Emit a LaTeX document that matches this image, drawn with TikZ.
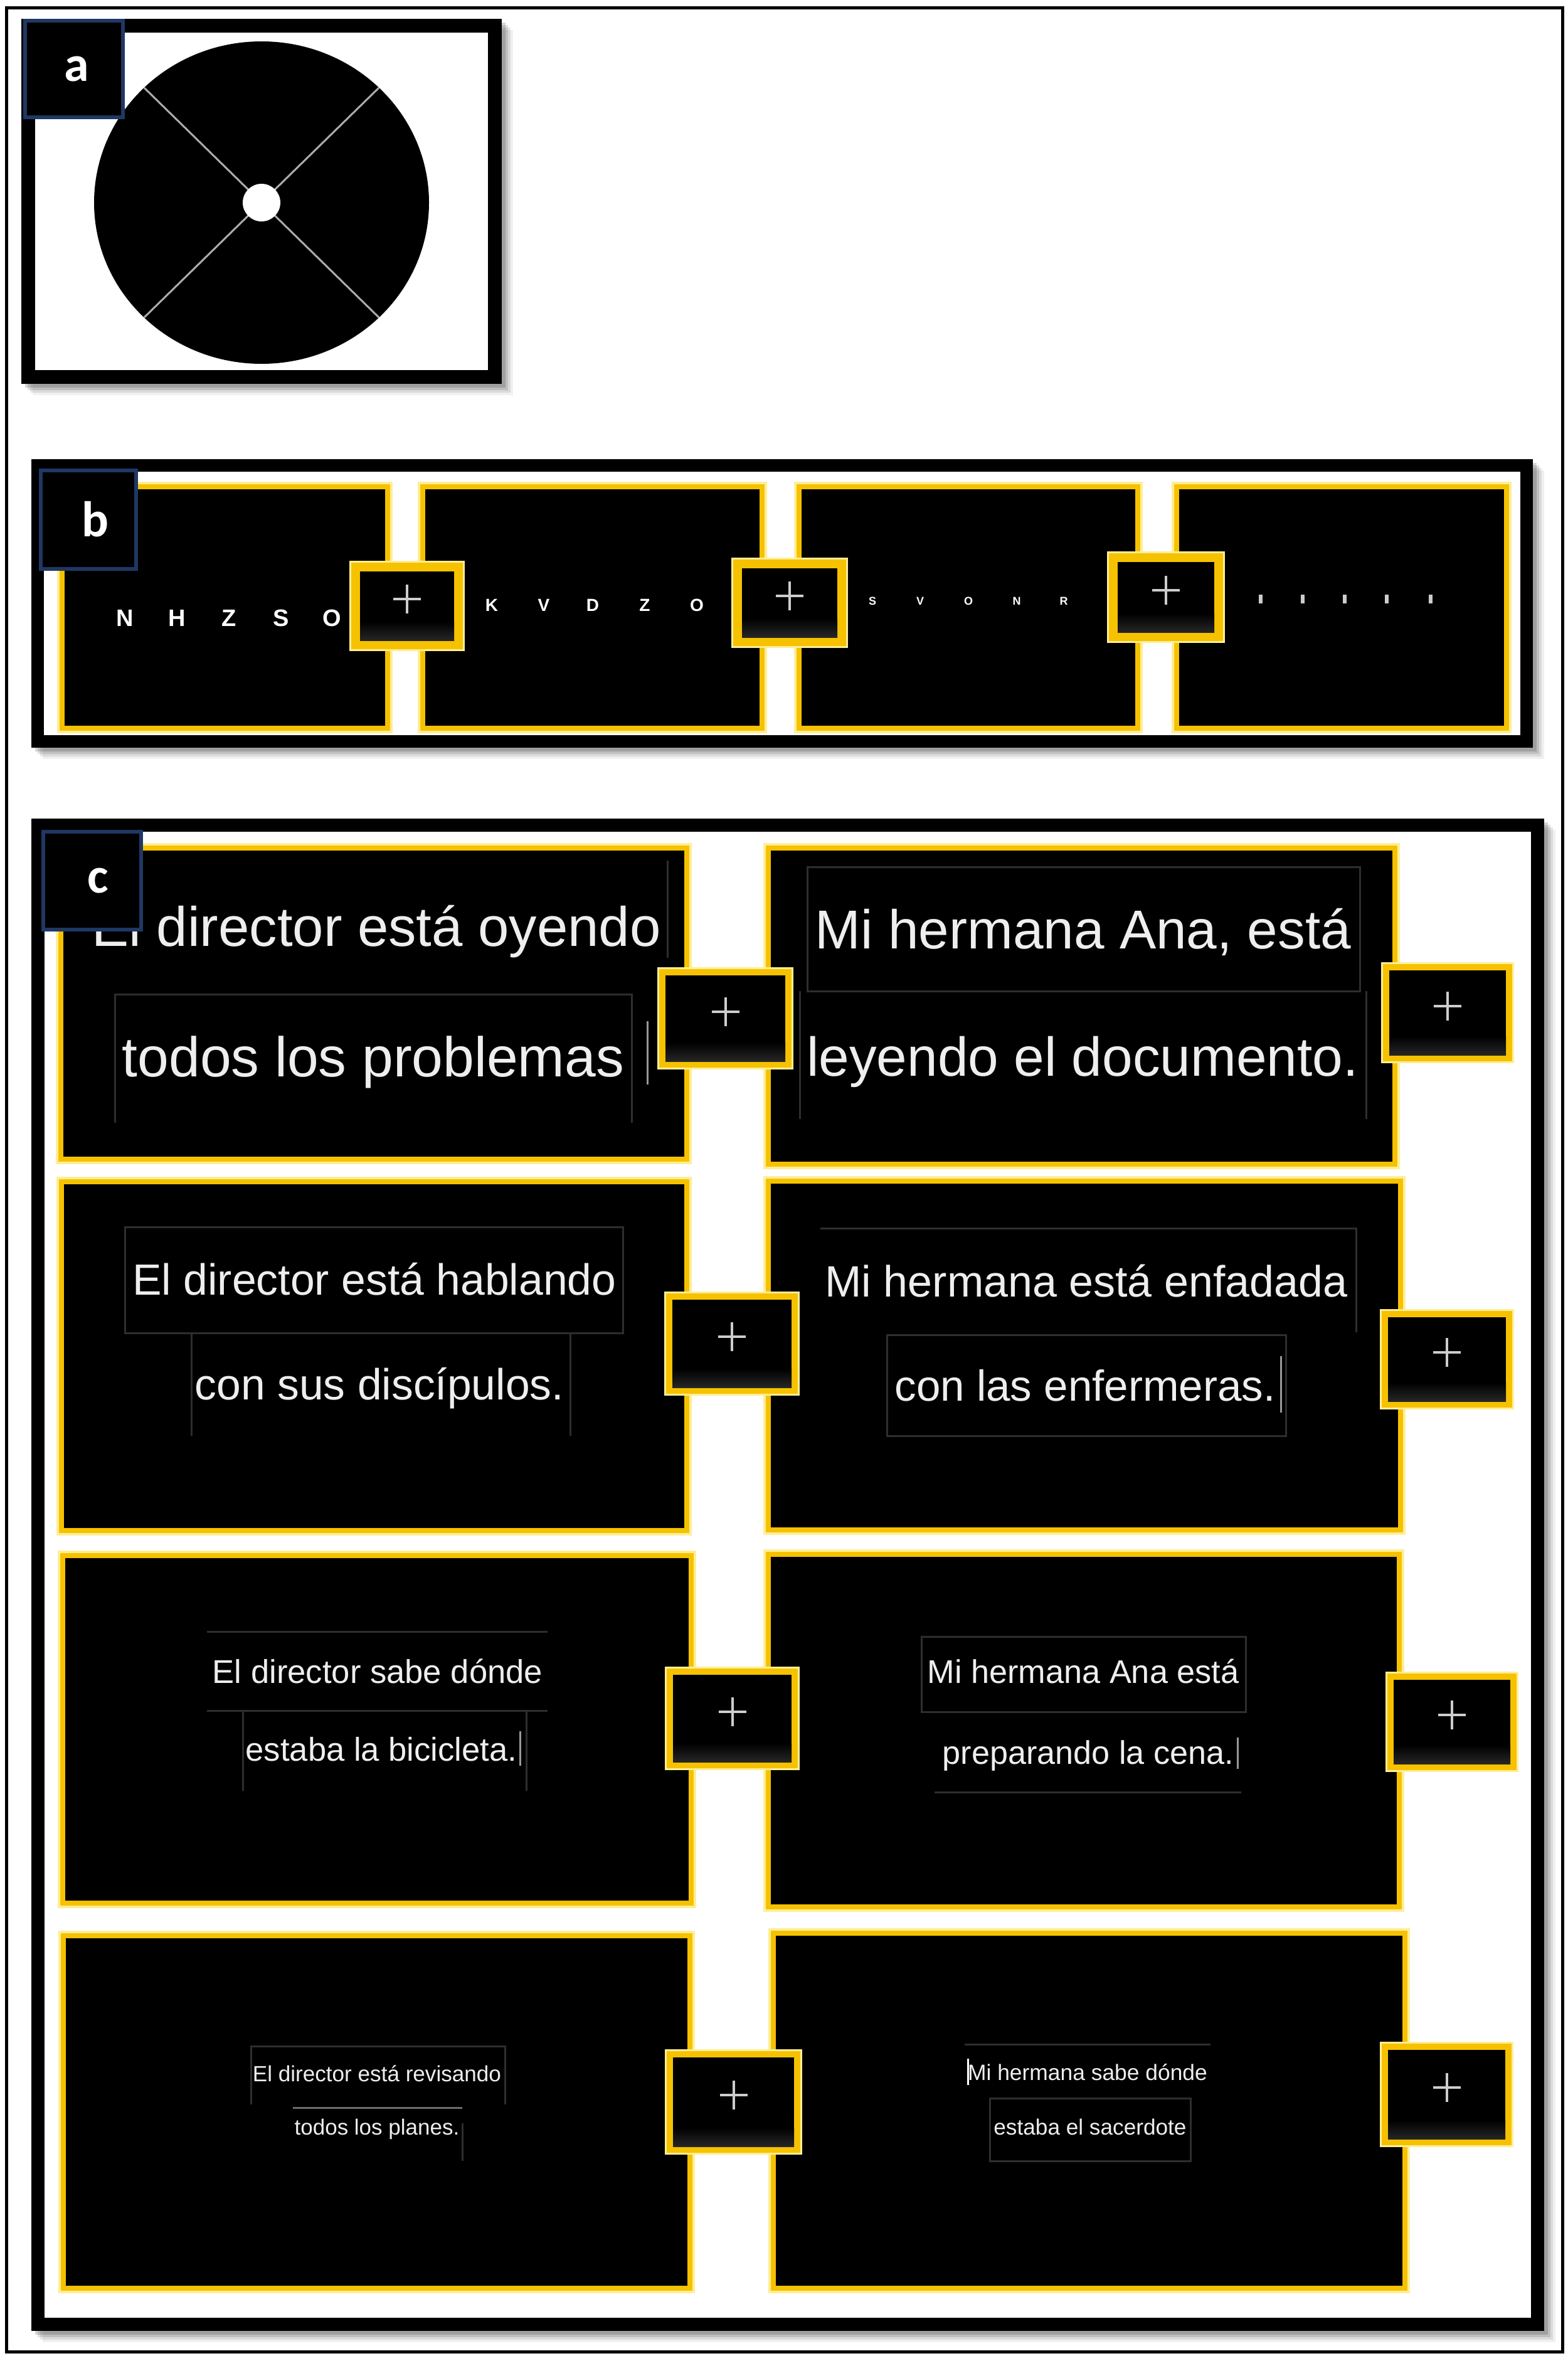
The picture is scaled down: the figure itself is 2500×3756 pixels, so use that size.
\documentclass[tikz,border=0pt]{standalone}
\usepackage{fontspec}
\setmainfont{Liberation Sans}
\newfontfamily\labfont{Carlito}
\definecolor{gold}{RGB}{246,194,0}
\definecolor{palegold}{RGB}{255,238,150}
\definecolor{navy}{RGB}{31,56,100}
\definecolor{boxgray}{RGB}{46,46,46}
\definecolor{plusgray}{RGB}{205,205,205}
\definecolor{txt}{RGB}{238,238,238}
\newcommand\ShadowBox[4]{%
  \foreach \sh/\op in {18/0.06,14/0.09,10/0.12,6/0.16}{%
    \fill[black,opacity=\op] (#1+\sh,#2+\sh) rectangle (#3+\sh,#4+\sh);}}
\newcommand\YPanel[4]{%
  \fill[black] (#1,#2) rectangle (#3,#4);
  \draw[palegold, line width=6pt] (#1-1,#2-1) rectangle (#3+1,#4+1);
  \draw[gold, line width=8pt] (#1+4,#2+4) rectangle (#3-4,#4-4);}
\newcommand\FixBox[5]{%
  \fill[palegold] (#1-3,#2-3) rectangle (#3+3,#4+3);
  \fill[gold] (#1,#2) rectangle (#3,#4);
  \fill[black] (#1+#5,#2+#5) rectangle (#3-#5,#4-#5);
  \shade[top color=black, bottom color=black!85!white] (#1+#5,#4-#5-30) rectangle (#3-#5,#4-#5);
  \pgfmathsetmacro\fcx{(#1+#3)/2}\pgfmathsetmacro\fcy{(#2+#4)/2-11}
  \draw[plusline] (\fcx-22,\fcy) -- (\fcx+22,\fcy);
  \draw[plusline] (\fcx,\fcy-23) -- (\fcx,\fcy+23);}
\begin{document}
\begin{tikzpicture}[x=1pt,y=-1pt,
  ctext/.style={text=txt, inner sep=0pt, anchor=base},
  labtext/.style={text=white, inner sep=0pt, font=\labfont\bfseries\fontsize{80}{80}\selectfont},
  labbox/.style={draw=navy, line width=6pt, fill=black},
  plusline/.style={plusgray, line width=4pt},
  tbox/.style={boxgray, line width=3pt},
  cursorline/.style={gray!80!white, line width=3pt},
  sloan/.style={text=white, inner sep=0pt, font=\bfseries}]
\useasboundingbox (0,0) rectangle (2500,3756);
\fill[white] (0,0) rectangle (2500,3756);
\draw[black, line width=5pt] (10.5,12.5) rectangle (2491.5,3749.5);

% ---------------- panel a
\ShadowBox{34}{30}{800}{612}
\draw[black, line width=22pt, fill=white] (45,41) rectangle (789,601);
\fill[black] (417,323) ellipse [x radius=267pt, y radius=257pt];
\draw[gray!65!white, line width=3pt] (417,323) -- ++(187,183);
\draw[gray!65!white, line width=3pt] (417,323) -- ++(-187,183);
\draw[gray!65!white, line width=3pt] (417,323) -- ++(187,-183);
\draw[gray!65!white, line width=3pt] (417,323) -- ++(-187,-183);
\fill[white] (417,323) circle [radius=30pt];
\draw[labbox] (40,33) rectangle (196,187);
\node[labtext] (la) at (122,110) {a};

% ---------------- panel b
\ShadowBox{50}{732}{2444}{1192}
\draw[black, line width=20pt, fill=white] (60,742) rectangle (2434,1182);
\YPanel{95}{772}{622}{1165}
\YPanel{670}{772}{1219}{1165}
\YPanel{1270}{772}{1818}{1165}
\YPanel{1872}{772}{2406}{1165}
\foreach \L/\X [count=\i] in {N/199,H/282,Z/365,S/448,O/529}
  \node[sloan, font=\bfseries\fontsize{38}{38}\selectfont] (pa\i) at (\X,985) {\L};
\foreach \L/\X [count=\i] in {K/784,V/867,D/945,Z/1028,O/1111}
  \node[sloan, font=\bfseries\fontsize{28}{28}\selectfont] (pb\i) at (\X,965) {\L};
\foreach \L/\X [count=\i] in {S/1391,V/1467,O/1544,N/1621,R/1696}
  \node[sloan, font=\bfseries\fontsize{18}{18}\selectfont] (pc\i) at (\X,958) {\L};
\foreach \X in {2010,2077,2144,2211,2281}
  \fill[white!80!black] (\X-3,948) rectangle (\X+3,962);
\FixBox{560}{897}{738}{1035}{14}
\FixBox{1169}{892}{1349}{1030}{14}
\FixBox{1768}{882}{1950}{1022}{14}
\draw[labbox] (65,750) rectangle (217,907);
\node[labtext] (lb) at (152,828) {b};

% ---------------- panel c
\ShadowBox{50}{1305}{2462}{3716}
\draw[black, line width=21pt, fill=white] (60.5,1315.5) rectangle (2451.5,3705.5);
\YPanel{93}{1348}{1099}{1852}
\YPanel{1221}{1348}{2228}{1860}
\YPanel{94}{1880}{1099}{2444}
\YPanel{1221}{1879}{2237}{2443}
\YPanel{96}{2476}{1106}{3038}
\YPanel{1221}{2474}{2235}{3044}
\YPanel{97}{3082}{1104}{3652}
\YPanel{1229}{3078}{2244}{3652}

% row 1 left
\draw[tbox] (1064,1372) -- (1064,1527);
\draw[tbox] (183,1790) -- (183,1585) -- (1007,1585) -- (1007,1790);
\draw[cursorline] (1032,1628) -- (1032,1729);
\node[ctext, font=\fontsize{88.7}{90}\selectfont] (t1a) at (600,1508) {El director está oyendo};
\node[ctext, font=\fontsize{89.4}{90}\selectfont] (t1b) at (595,1716) {todos los problemas};
% row 1 right
\draw[tbox] (1287,1382) rectangle (2168,1580);
\draw[tbox] (1275,1580) -- (1275,1784);
\draw[tbox] (2178,1580) -- (2178,1784);
\node[ctext, font=\fontsize{87.3}{90}\selectfont] (t2a) at (1727,1512) {Mi hermana Ana, está};
\node[ctext, font=\fontsize{87.4}{90}\selectfont] (t2b) at (1726,1715) {leyendo el documento.};
% row 2 left
\draw[tbox] (199,1956) rectangle (993,2125);
\draw[tbox] (305,2125) -- (305,2289);
\draw[tbox] (909,2125) -- (909,2289);
\node[ctext, font=\fontsize{69.7}{70}\selectfont] (t3a) at (597,2064) {El director está hablando};
\node[ctext, font=\fontsize{69.6}{70}\selectfont] (t3b) at (605,2231) {con sus discípulos.};
% row 2 right
\draw[tbox] (1308,1958) -- (2162,1958) -- (2162,2124);
\draw[tbox] (1414,2128) rectangle (2050,2289);
\draw[cursorline] (2042,2162) -- (2042,2252);
\node[ctext, font=\fontsize{70}{70}\selectfont] (t4a) at (1732,2067) {Mi hermana está enfadada};
\node[ctext, font=\fontsize{69.1}{70}\selectfont] (t4b) at (1730,2233) {con las enfermeras.};
% row 3 left
\draw[tbox] (330,2601) -- (873,2601);
\draw[tbox] (330,2727) -- (873,2727);
\draw[tbox] (387,2727) -- (387,2855);
\draw[tbox] (839,2727) -- (839,2855);
\draw[cursorline] (829,2760) -- (829,2815);
\node[ctext, font=\fontsize{52.6}{53}\selectfont] (t5a) at (602,2683) {El director sabe dónde};
\node[ctext, font=\fontsize{52.6}{53}\selectfont] (t5b) at (608,2807) {estaba la bicicleta.};
% row 3 right
\draw[tbox] (1469,2609) rectangle (1986,2729);
\draw[tbox] (1490,2729) -- (1979,2729);
\draw[tbox] (1490,2857) -- (1979,2857);
\draw[cursorline] (1973,2770) -- (1973,2820);
\node[ctext, font=\fontsize{52.3}{53}\selectfont] (t6a) at (1727,2683) {Mi hermana Ana está};
\node[ctext, font=\fontsize{52.2}{53}\selectfont] (t6b) at (1735,2812) {preparando la cena.};
% row 4 left
\draw[tbox] (400,3355) -- (400,3262) -- (805,3262) -- (805,3355);
\draw[boxgray!70!white, line width=3pt] (467,3360) -- (737,3360);
\draw[tbox] (737,3385) -- (737,3445);
\node[ctext, font=\fontsize{35.1}{36}\selectfont] (t7a) at (601,3318) {El director está revisando};
\node[ctext, font=\fontsize{35}{36}\selectfont] (t7b) at (601,3403) {todos los planes.};
% row 4 right
\draw[tbox] (1538,3259) -- (1930,3259);
\draw[tbox] (1578,3345) rectangle (1898,3445);
\draw[white, line width=3pt] (1543,3282) -- (1543,3324);
\node[ctext, font=\fontsize{35.4}{36}\selectfont] (t8a) at (1734,3316) {Mi hermana sabe dónde};
\node[ctext, font=\fontsize{35.2}{36}\selectfont] (t8b) at (1738,3403) {estaba el sacerdote};

% fixation boxes
\FixBox{1051}{1545}{1262}{1702}{10}
\FixBox{2205}{1537}{2411}{1692}{10}
\FixBox{1062}{2062}{1272}{2222}{10}
\FixBox{2203}{2090}{2411}{2244}{10}
\FixBox{1063}{2660}{1272}{2819}{10}
\FixBox{2212}{2668}{2418}{2822}{10}
\FixBox{1063}{3270}{1276}{3432}{10}
\FixBox{2203}{3258}{2410}{3420}{10}

\draw[labbox] (69,1326) rectangle (225,1482);
\node[labtext] (lc) at (156,1404) {c};
\end{tikzpicture}
\end{document}
